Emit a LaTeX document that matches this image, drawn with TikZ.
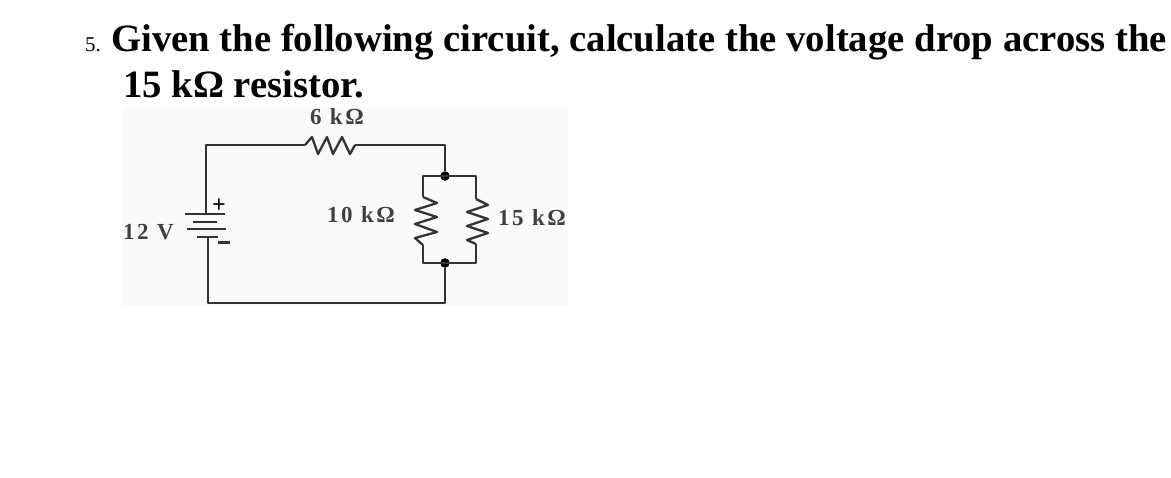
\documentclass[tikz,border=0pt]{standalone}
\usepackage{fontspec}
\setmainfont{Liberation Serif}
\newfontfamily\valfont[LetterSpace=11]{Liberation Serif}
\tikzset{%
  wire/.style={draw=black!80,line width=2.3pt,line join=round},
  gdot/.style={draw=black,shape=circle,fill=black,inner sep=0,minimum size=9pt},
  head/.style={anchor=base west,inner sep=0,font=\bfseries\fontsize{38.7}{42}\selectfont},
  val/.style={anchor=base west,inner sep=0,text=black!75,font=\valfont\bfseries\fontsize{23}{25}\selectfont}
}
\begin{document}
\begin{tikzpicture}[x=1pt,y=-1pt]
    \useasboundingbox (0,0) rectangle (1171,477);
    \fill[black!2] (122,108) rectangle (568,306);
    \node (num)[anchor=base west,inner sep=0,font=\fontsize{21}{24}\selectfont] at (85,51) {5.};
    \node (line1)[head] at (111,51) {Given the following circuit, calculate the voltage drop across the};
    \node (line2)[head] at (123,97) {15 kΩ resistor.};
    \path
      (206,145) coordinate (tl)
      (305,145) coordinate (r1a)
      (355,145) coordinate (r1b)
      (445,145) coordinate (tr)
      (445,176) node (top)[gdot]{}
      (445,263) node (bot)[gdot]{}
      (445,303) coordinate (br)
      (208,303) coordinate (bl)
      (423,176) coordinate (ltop)
      (476,176) coordinate (rtop)
      (423,263) coordinate (lbot)
      (476,263) coordinate (rbot)
      (423,197) coordinate (r2a)
      (423,245) coordinate (r2b)
      (476,199) coordinate (r3a)
      (476,244) coordinate (r3b)
      (206,214) coordinate (bata)
      (208,237) coordinate (batb);
    \draw[wire] (bata) -- (tl) -- (r1a);
    \draw[wire] (r1a) -- (312,137) -- (318,154) -- (327,137) -- (333,154) -- (342,137) -- (350,154) -- (r1b);
    \draw[wire] (r1b) -- (tr) -- (top);
    \draw[wire] (bot) -- (br) -- (bl) -- (batb);
    \draw[wire] (r2a) -- (ltop) -- (rtop) -- (r3a);
    \draw[wire] (r2b) -- (lbot) -- (rbot) -- (r3b);
    \draw[wire] (r2a) -- (437,203) -- (415,210) -- (437,217) -- (415,224) -- (437,232) -- (415,238) -- (r2b);
    \draw[wire] (r3a) -- (488,205) -- (467,212) -- (488,219) -- (467,226) -- (488,233) -- (467,240) -- (r3b);
    % battery plates
    \draw[wire] (185,214) -- (225,214);
    \draw[wire] (193,222) -- (217,222);
    \draw[wire] (187,229) -- (226,229);
    \draw[wire] (197,237) -- (218,237);
    \node (plus)[inner sep=0,font=\bfseries\fontsize{24}{24}\selectfont] at (219,206) {+};
    \draw[wire,line width=3pt] (218,242) -- (230,242);
    \node (v1)[val] at (123,239) {12 V};
    \node (r1)[val] at (310,124) {6 kΩ};
    \node (r2)[val] at (327,222) {10 kΩ};
    \node (r3)[val] at (498,225) {15 kΩ};
  \end{tikzpicture}
\end{document}
